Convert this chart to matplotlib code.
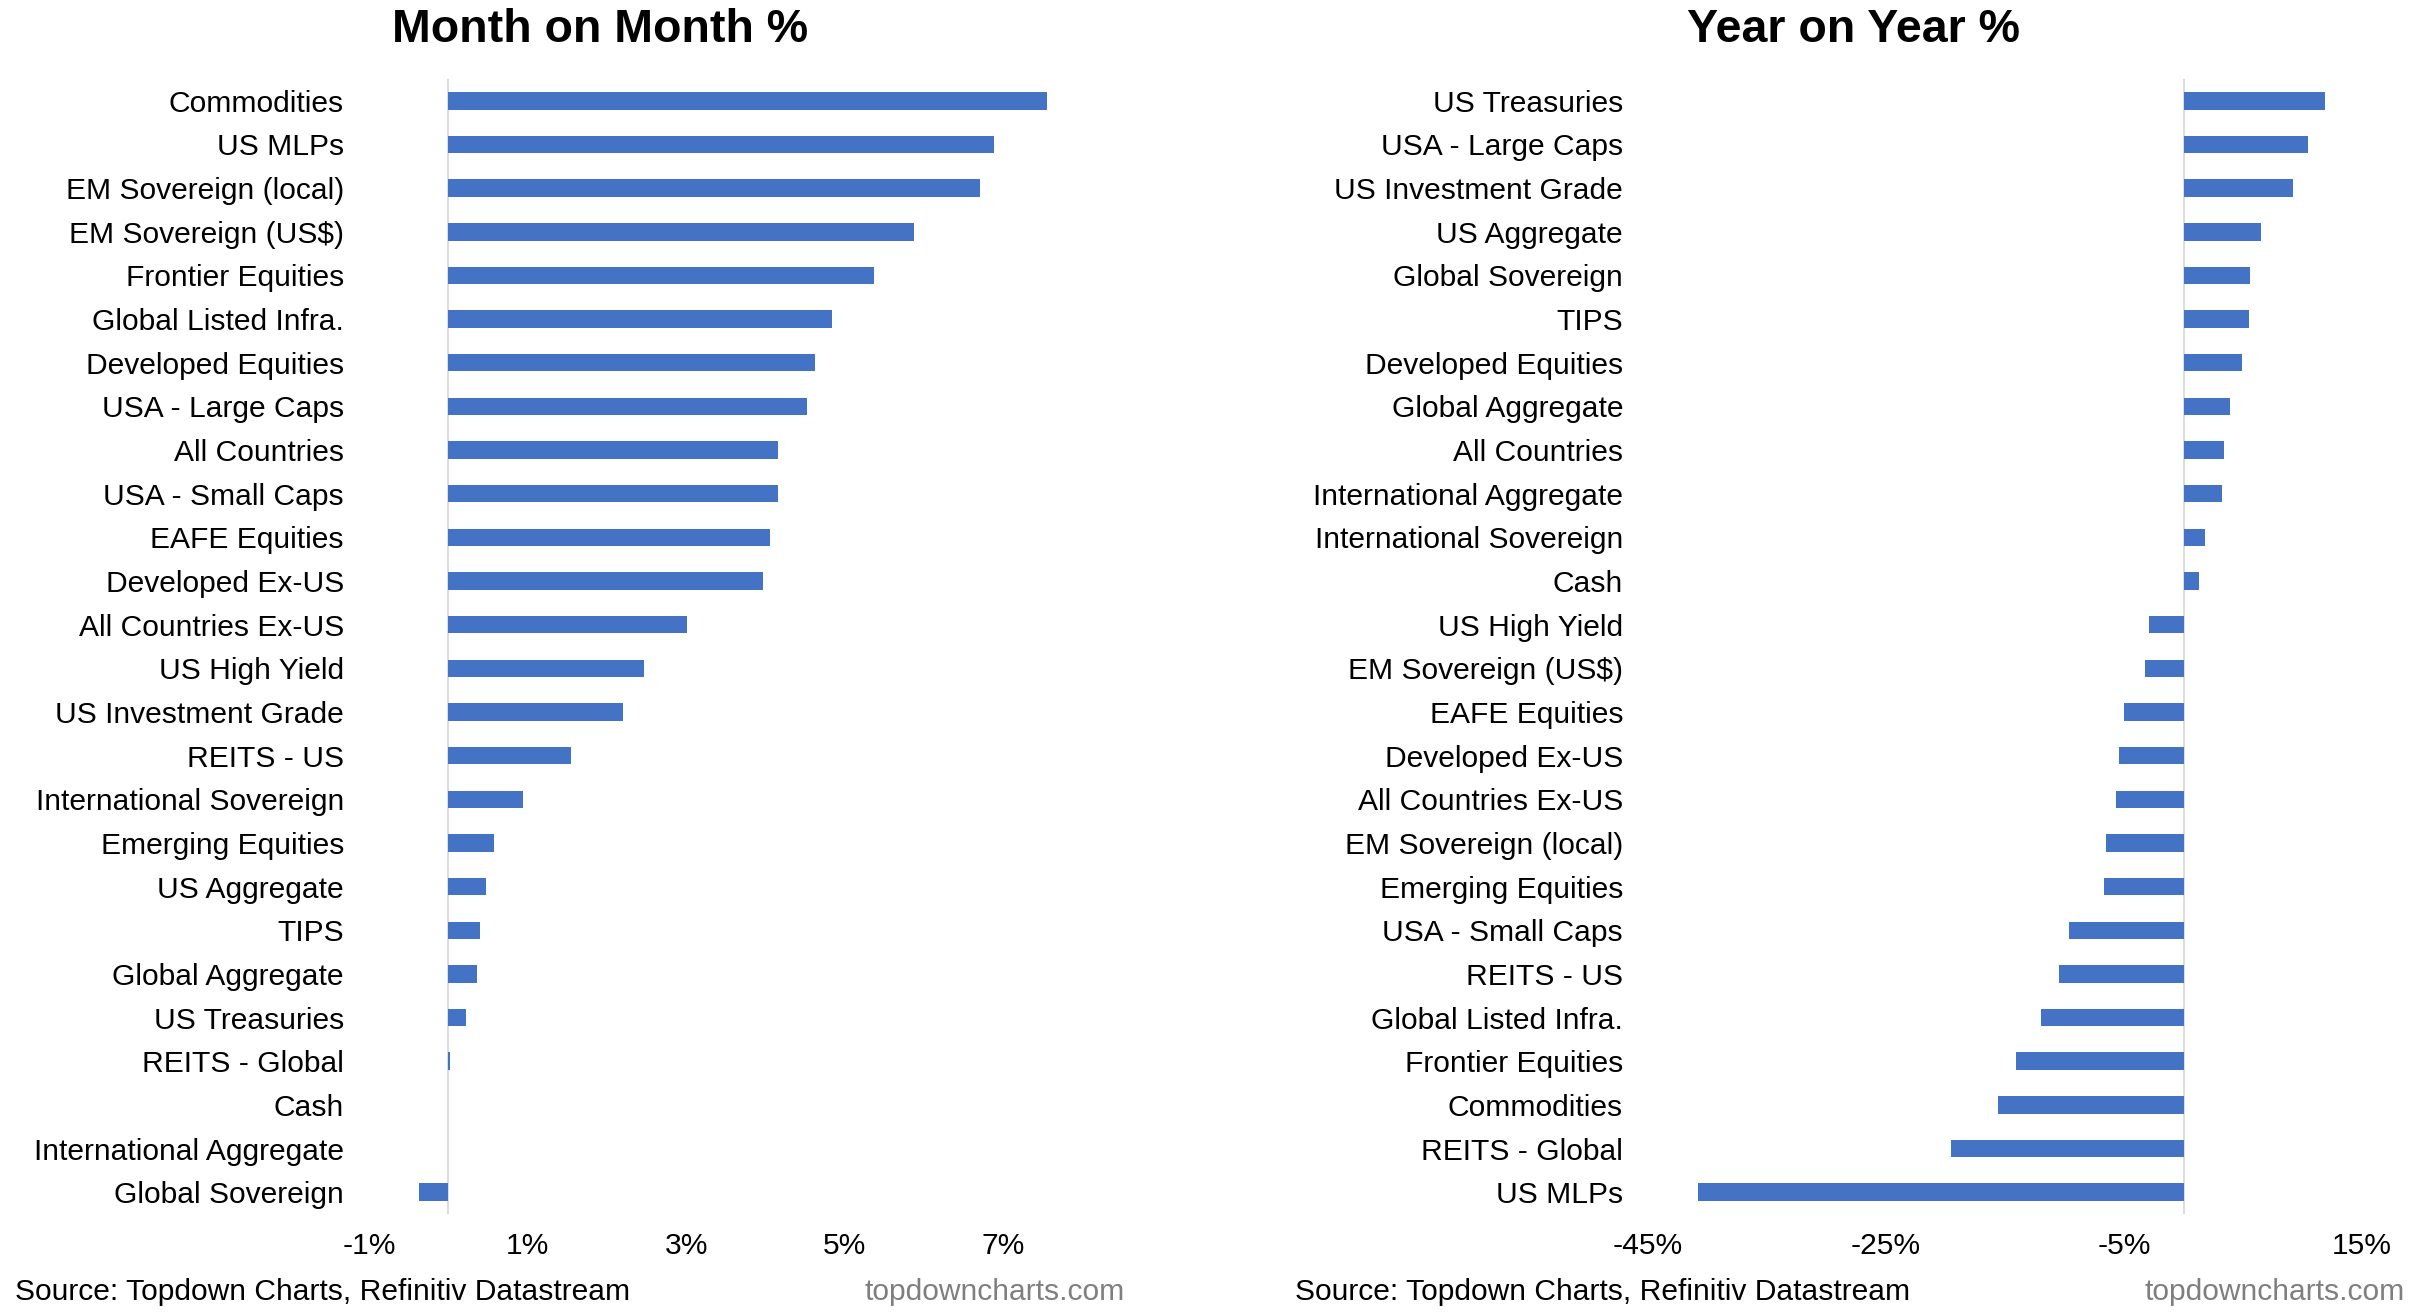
import matplotlib
matplotlib.use("Agg")
import matplotlib.pyplot as plt
import numpy as np

plt.rcParams["font.family"] = ["Liberation Sans", "DejaVu Sans"]

# Month on Month %, top to bottom
mom_labels = [
    "Commodities", "US MLPs", "EM Sovereign (local)", "EM Sovereign (US$)",
    "Frontier Equities", "Global Listed Infra.", "Developed Equities",
    "USA - Large Caps", "All Countries", "USA - Small Caps", "EAFE Equities",
    "Developed Ex-US", "All Countries Ex-US", "US High Yield",
    "US Investment Grade", "REITS - US", "International Sovereign",
    "Emerging Equities", "US Aggregate", "TIPS", "Global Aggregate",
    "US Treasuries", "REITS - Global", "Cash", "International Aggregate",
    "Global Sovereign",
]
mom_values = [
    7.55, 6.88, 6.70, 5.87, 5.36, 4.83, 4.62, 4.52, 4.15, 4.15, 4.06, 3.97,
    3.01, 2.47, 2.20, 1.54, 0.94, 0.58, 0.48, 0.40, 0.36, 0.22, 0.02, 0.0,
    0.0, -0.37,
]

# Year on Year %, top to bottom
yoy_labels = [
    "US Treasuries", "USA - Large Caps", "US Investment Grade", "US Aggregate",
    "Global Sovereign", "TIPS", "Developed Equities", "Global Aggregate",
    "All Countries", "International Aggregate", "International Sovereign",
    "Cash", "US High Yield", "EM Sovereign (US$)", "EAFE Equities",
    "Developed Ex-US", "All Countries Ex-US", "EM Sovereign (local)",
    "Emerging Equities", "USA - Small Caps", "REITS - US",
    "Global Listed Infra.", "Frontier Equities", "Commodities",
    "REITS - Global", "US MLPs",
]
yoy_values = [
    11.9, 10.5, 9.2, 6.5, 5.6, 5.5, 4.9, 3.9, 3.4, 3.2, 1.8, 1.3, -2.9, -3.2,
    -5.0, -5.4, -5.7, -6.5, -6.7, -9.6, -10.5, -12.0, -14.1, -15.6, -19.5,
    -40.8,
]

mom_ticks = [-1, 1, 3, 5, 7]
yoy_ticks = [-45, -25, -5, 15]

BAR = "#4472C4"
FS = 21.6
W, H = 2416, 1316


def draw(ax, labels, values, ticks, xlim, title, title_x):
    y = np.arange(len(labels))
    ax.barh(y, values, height=0.4, color=BAR, zorder=2)
    ax.axvline(0, color="#d9d9d9", lw=1.3, zorder=1)
    ax.set_xlim(*xlim)
    ax.set_ylim(len(labels) - 0.5, -0.5)
    ax.set_yticks(y)
    ax.set_yticklabels(labels, fontsize=FS)
    ax.set_xticks(ticks)
    ax.set_xticklabels([f"{t}%" for t in ticks], fontsize=FS)
    ax.tick_params(axis="y", length=0, pad=18)
    ax.tick_params(axis="x", length=0, pad=13)
    for s in ax.spines.values():
        s.set_visible(False)
    fig.text(title_x / W, 1 - 30 / H, title, fontsize=33.5, fontweight="bold",
             ha="center", va="center")


fig = plt.figure(figsize=(W / 100, H / 100), dpi=100)
ax1 = fig.add_axes([369 / W, 1 - 1214 / H, 714 / W, 1135 / H])
ax2 = fig.add_axes([1648 / W, 1 - 1214 / H, 714 / W, 1135 / H])

draw(ax1, mom_labels, mom_values, mom_ticks, (-1, 8), "Month on Month %", 600)
draw(ax2, yoy_labels, yoy_values, yoy_ticks, (-45, 15), "Year on Year %", 1854)

src = "Source: Topdown Charts, Refinitiv Datastream"
fig.text(15 / W, 1 - 1292 / H, src, fontsize=FS, ha="left", va="center")
fig.text(1125 / W, 1 - 1292 / H, "topdowncharts.com", fontsize=FS,
         color="#7f7f7f", ha="right", va="center")
fig.text(1295 / W, 1 - 1292 / H, src, fontsize=FS, ha="left", va="center")
fig.text(2405 / W, 1 - 1292 / H, "topdowncharts.com", fontsize=FS,
         color="#7f7f7f", ha="right", va="center")

fig.savefig("out.png", dpi=100, facecolor="white")
